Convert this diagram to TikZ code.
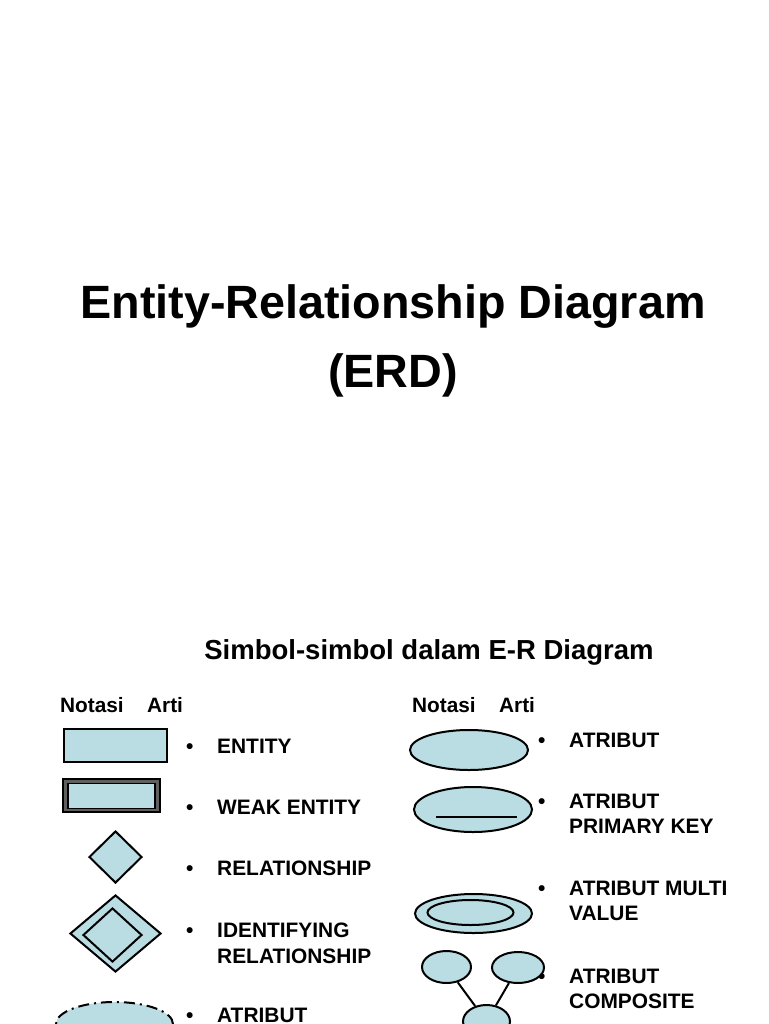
\documentclass[tikz,border=0pt]{standalone}
\usepackage{fontspec}
\setmainfont{Liberation Sans}
\usetikzlibrary{shapes.geometric}
\definecolor{erfill}{RGB}{185,221,226}
\definecolor{bandgray}{RGB}{95,95,95}
\begin{document}
\begin{tikzpicture}[x=1pt,y=-1pt,
  shp/.style={draw=black,line width=2pt,fill=erfill,inner sep=0pt},
  rectshape/.style={shp,rectangle},
  diashape/.style={shp,diamond},
  ellshape/.style={shp,ellipse},
  titletext/.style={font=\fontsize{46.7}{54}\selectfont\bfseries,inner sep=0pt,anchor=base},
  subtext/.style={font=\fontsize{27.5}{32}\selectfont\bfseries,inner sep=0pt,anchor=base},
  headtext/.style={font=\fontsize{20.8}{24}\selectfont\bfseries,inner sep=0pt,anchor=base west},
  lbl/.style={font=\fontsize{20.9}{25.5}\selectfont\bfseries,inner sep=0pt,anchor=base west},
  bul/.style={font=\fontsize{20.9}{25.5}\selectfont\bfseries,inner sep=0pt,anchor=base west}
]
\useasboundingbox (0,0) rectangle (768,1024);
\fill[white] (0,0) rectangle (768,1024);

% titles
\node[titletext] (t1) at (393,318) {Entity-Relationship Diagram};
\node[titletext] (t2) at (393,387) {(ERD)};
\node[subtext] (sub) at (429,659) {Simbol-simbol dalam E-R Diagram};

% column heads
\node[headtext] (hn1) at (60,712) {Notasi};
\node[headtext] (ha1) at (147,712) {Arti};
\node[headtext] (hn2) at (412,712) {Notasi};
\node[headtext] (ha2) at (499,712) {Arti};

% left column shapes
\node[rectshape,minimum width=103,minimum height=33] (ent) at (115.5,745.5) {};
\node[rectshape,fill=bandgray,minimum width=97,minimum height=33] (weak) at (111.5,795.5) {};
\node[draw=black,line width=1.2pt,fill=erfill,inner sep=0pt,minimum width=87,minimum height=25] (weakin) at (111.5,796) {};
\node[diashape,minimum width=53,minimum height=52] (rel) at (115.5,857) {};
\node[diashape,minimum width=91,minimum height=77] (idrel) at (115.5,933.5) {};
\node[diashape,minimum width=59,minimum height=54] (idrelin) at (112.5,935) {};
\node[ellshape,dash pattern=on 11pt off 5pt on 2pt off 5pt,minimum width=117,minimum height=44] (attrd) at (114.5,1024) {};

% left column labels
\node[bul] (b1) at (186,753) {•};
\node[lbl] (l1) at (217,753) {ENTITY};
\node[bul] (b2) at (186,814) {•};
\node[lbl] (l2) at (217,814) {WEAK ENTITY};
\node[bul] (b3) at (186,875) {•};
\node[lbl] (l3) at (217,875) {RELATIONSHIP};
\node[bul] (b4) at (186,937) {•};
\node[lbl] (l4a) at (217,937) {IDENTIFYING};
\node[lbl] (l4b) at (217,963) {RELATIONSHIP};
\node[bul] (b5) at (186,1022) {•};
\node[lbl] (l5) at (217,1022) {ATRIBUT};

% right column labels (bullets first, shapes may overlap)
\node[bul] (rb1) at (538,747) {•};
\node[lbl] (r1) at (569,747) {ATRIBUT};
\node[bul] (rb2) at (538,808) {•};
\node[lbl] (r2a) at (569,808) {ATRIBUT};
\node[lbl] (r2b) at (569,833) {PRIMARY KEY};
\node[bul] (rb3) at (538,895) {•};
\node[lbl] (r3a) at (569,895) {ATRIBUT MULTI};
\node[lbl] (r3b) at (569,920) {VALUE};
\node[bul] (rb4) at (538,983) {•};
\node[lbl] (r4a) at (569,983) {ATRIBUT};
\node[lbl] (r4b) at (569,1008) {COMPOSITE};

% right column shapes
\node[ellshape,minimum width=118,minimum height=40] (attr) at (469,750) {};
\node[ellshape,minimum width=118,minimum height=45] (pk) at (473,809.5) {};
\coordinate (pka) at (436,817);
\coordinate (pkb) at (517,817);
\draw[line width=2.2pt] (pka) -- (pkb);
\node[ellshape,minimum width=117,minimum height=39] (mv) at (473.5,913.5) {};
\node[ellshape,minimum width=86,minimum height=25] (mvin) at (470.5,912.5) {};
\node[ellshape,minimum width=49,minimum height=32] (cp1) at (446.5,967) {};
\node[ellshape,minimum width=52,minimum height=31] (cp2) at (518,967.5) {};
\node[ellshape,minimum width=47,minimum height=33] (cp3) at (486.5,1021.5) {};
\draw[line width=2pt] (cp1) -- (cp3);
\draw[line width=2pt] (cp2) -- (cp3);
\end{tikzpicture}
\end{document}
